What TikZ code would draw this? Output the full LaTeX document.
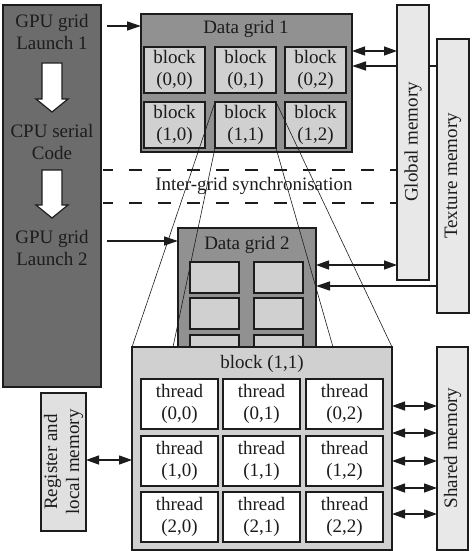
\documentclass[tikz,border=0pt]{standalone}
\usepackage{fontspec}
\setmainfont{Liberation Serif}
\usetikzlibrary{arrows.meta,calc}
\definecolor{cdark}{RGB}{108,108,108}
\definecolor{cgrid}{RGB}{145,145,145}
\definecolor{cblock}{RGB}{208,208,208}
\definecolor{cmem}{RGB}{232,232,232}
\definecolor{creg}{RGB}{224,224,224}
\definecolor{cline}{RGB}{28,28,28}
\begin{document}
\begin{tikzpicture}[x=1pt,y=-1pt,
  font=\fontsize{19}{22}\selectfont, text=cline,
  box/.style={draw=cline, line width=1.5pt, inner sep=0pt, outer sep=0pt, anchor=north west},
  gridbox/.style={box, fill=cgrid, line width=1.8pt},
  blockbox/.style={box, fill=cblock, line width=1.8pt, align=center, minimum width=61pt, minimum height=46pt},
  smallbox/.style={box, fill=cblock, line width=1.6pt, minimum width=49pt, minimum height=31pt},
  threadbox/.style={box, fill=white, line width=1.6pt, align=center, minimum width=77pt, minimum height=50pt},
  membox/.style={box, fill=cmem, line width=1.5pt},
  lbl/.style={inner sep=0pt, align=center},
  warrow/.style={draw=cline, fill=white, line width=1.2pt, line join=miter},
  arr/.style={-{Triangle[length=14pt,width=9pt]}, line width=1.3pt, draw=cline},
  dbl/.style={{Triangle[length=13pt,width=9pt]}-{Triangle[length=13pt,width=9pt]}, line width=1.3pt, draw=cline},
  dashline/.style={draw=cline, line width=1.4pt, dash pattern=on 13pt off 16pt, dash phase=3pt},
  zoomline/.style={draw=cline, line width=0.6pt}
]
\useasboundingbox (0,0) rectangle (474,551);

% CPU / host column
\node[box, fill=cdark, minimum width=98pt, minimum height=382pt] (cpu) at (3,5) {};
\node[lbl] (l1) at (52,32) {GPU grid\\Launch 1};
\node[lbl] (l2) at (52,142) {CPU serial\\Code};
\node[lbl] (l3) at (52,248) {GPU grid\\Launch 2};
\draw[warrow] (42,63) -- (62,63) -- (62,99) -- (68,99) -- (52,112) -- (36,99) -- (42,99) -- cycle;
\draw[warrow] (42,170) -- (62,170) -- (62,205) -- (68,205) -- (52,218) -- (36,205) -- (42,205) -- cycle;

% Data grid 1
\node[gridbox, minimum width=211pt, minimum height=138pt] (dg1) at (141,14) {};
\node[lbl] (dg1t) at (246,29) {Data grid 1};
\node[blockbox] (b00) at (144,47) {block\\(0,0)};
\node[blockbox] (b01) at (215,47) {block\\(0,1)};
\node[blockbox] (b02) at (285,47) {block\\(0,2)};
\node[blockbox] (b10) at (144,102) {block\\(1,0)};
\node[blockbox] (b11) at (215,102) {block\\(1,1)};
\node[blockbox] (b12) at (285,102) {block\\(1,2)};

% memories
\node[membox, minimum width=32pt, minimum height=274pt] (tm) at (437,39) {};
\node[lbl, rotate=90] (tmt) at (453,176) {Texture memory};
\draw[line width=1.3pt, draw=cline] (tm.west |- 0,66) -- (429,66) coordinate (tmg);
\node[membox, minimum width=32pt, minimum height=275pt] (gm) at (397,5) {};
\node[lbl, rotate=90] (gmt) at (413,142) {Global memory};

% synchronisation
\coordinate (d1a) at (103,170);
\coordinate (d1b) at (396,170);
\coordinate (d2a) at (103,203);
\coordinate (d2b) at (396,203);
\draw[dashline] (d1a) -- (d1b);
\draw[dashline] (d2a) -- (d2b);
\node[lbl] (sync) at (254,186) {Inter-grid synchronisation};

% Data grid 2
\node[gridbox, minimum width=138pt, minimum height=132pt] (dg2) at (178,228) {};
\node[lbl] (dg2t) at (247,245) {Data grid 2};
\node[smallbox] (s00) at (190,262) {};
\node[smallbox] (s01) at (254,262) {};
\node[smallbox] (s10) at (190,298) {};
\node[smallbox] (s11) at (254,298) {};
\node[smallbox] (s20) at (190,335) {};
\node[smallbox] (s21) at (254,335) {};

% zoom lines
\coordinate (z2) at (173,347);
\coordinate (z3) at (333,347);
\draw[zoomline] (b11.north west) -- (132,347) coordinate (z1);
\draw[zoomline] (b11.south west) -- (z2);
\draw[zoomline] (b11.south east) -- (z3);
\draw[zoomline] (b11.north east) -- (392,347) coordinate (z4);

% block (1,1)
\node[box, fill=cblock, line width=1.8pt, minimum width=260pt, minimum height=203pt] (bb) at (132,347) {};
\node[lbl] (bbt) at (262,364) {block (1,1)};
\node[threadbox] (t00) at (141,379) {thread\\(0,0)};
\node[threadbox] (t01) at (223,379) {thread\\(0,1)};
\node[threadbox] (t02) at (306,379) {thread\\(0,2)};
\node[threadbox] (t10) at (141,436) {thread\\(1,0)};
\node[threadbox] (t11) at (223,436) {thread\\(1,1)};
\node[threadbox] (t12) at (306,436) {thread\\(1,2)};
\node[threadbox] (t20) at (141,492) {thread\\(2,0)};
\node[threadbox] (t21) at (223,492) {thread\\(2,1)};
\node[threadbox] (t22) at (306,492) {thread\\(2,2)};

\node[membox, minimum width=31pt, minimum height=203pt] (sm) at (437,347) {};
\node[lbl, rotate=90] (smt) at (452.5,448) {Shared memory};
\node[box, fill=creg, minimum width=45pt, minimum height=138pt] (rm) at (41,393) {};
\node[lbl, rotate=90] (rmt) at (63.5,462) {Register and\\local memory};

% connectors
\draw[arr] (107,26) -- (dg1.west |- 0,26);
\draw[arr] (107,241) -- (dg2.west |- 0,241);
\draw[dbl] (dg1.east |- 0,51) -- (gm.west |- 0,51);
\draw[arr] (gm.west |- 0,66) -- (dg1.east |- 0,66);
\draw[dbl] (dg2.east |- 0,265) -- (gm.west |- 0,265);
\draw[arr] (tm.west |- 0,286) -- (dg2.east |- 0,286);
\foreach \yy in {406,433,461,488,514} {
  \draw[dbl] (bb.east |- 0,\yy) -- (sm.west |- 0,\yy);
}
\draw[dbl] (rm.east |- 0,460) -- (bb.west |- 0,460);
\end{tikzpicture}
\end{document}
